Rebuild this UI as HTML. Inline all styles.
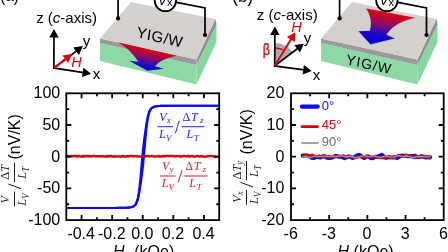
<!DOCTYPE html>
<html lang="en"><head><meta charset="utf-8"><title>Figure</title>
<style>html,body{margin:0;padding:0;background:#fff;overflow:hidden}svg{display:block}text{white-space:pre}</style>
</head><body>
<svg width="448" height="252" viewBox="0 0 448 252">
<defs>
<linearGradient id="ga" gradientUnits="userSpaceOnUse" x1="150" y1="48.5" x2="145" y2="71"><stop offset="0" stop-color="#dc0010"/><stop offset="0.14" stop-color="#c80428"/><stop offset="0.4" stop-color="#8c0c62"/><stop offset="0.6" stop-color="#4a0c9e"/><stop offset="0.76" stop-color="#1a08c6"/><stop offset="1" stop-color="#0800d2"/></linearGradient>
<linearGradient id="gb" gradientUnits="userSpaceOnUse" x1="392" y1="12" x2="386" y2="44"><stop offset="0" stop-color="#dc0010"/><stop offset="0.15" stop-color="#cc0424"/><stop offset="0.42" stop-color="#8c0c62"/><stop offset="0.6" stop-color="#4a0c9e"/><stop offset="0.74" stop-color="#1a08c6"/><stop offset="1" stop-color="#0800d2"/></linearGradient>
</defs>
<rect width="448" height="252" fill="#fff"/>
<text transform="translate(0,0.9) scale(0.86,1)" font-family='"Liberation Sans", Arial, sans-serif' font-size="18">(a)</text>
<text transform="translate(232.2,1.9) scale(0.95,1)" font-family='"Liberation Sans", Arial, sans-serif' font-size="18">(b)</text>
<text x="36.2" y="23.2" font-family='"Liberation Sans", Arial, sans-serif' font-size="15">z (<tspan font-style="italic">c</tspan>-axis)</text>
<line x1="53.90" y1="68.80" x2="53.98" y2="36.50" stroke="#000" stroke-width="1.7"/>
<polygon points="54.00,29.00 58.68,37.51 49.28,37.49" fill="#000"/>
<line x1="53.10" y1="67.90" x2="83.69" y2="72.57" stroke="#000" stroke-width="1.7"/>
<polygon points="91.10,73.70 81.99,77.06 83.41,67.77" fill="#000"/>
<line x1="53.90" y1="68.00" x2="76.91" y2="50.62" stroke="#000" stroke-width="1.7"/>
<polygon points="82.90,46.10 78.95,54.97 73.28,47.47" fill="#000"/>
<line x1="53.90" y1="68.00" x2="66.16" y2="58.57" stroke="#dc040c" stroke-width="2.1"/>
<polygon points="72.10,54.00 68.23,62.91 62.50,55.46" fill="#dc040c"/>
<text x="82.8" y="45.5" font-family='"Liberation Sans", Arial, sans-serif' font-size="15">y</text>
<text x="71.2" y="67.3" font-family='"Liberation Sans", Arial, sans-serif' font-size="14.5" font-style="italic" fill="#dc040c">H</text>
<text x="92.8" y="78.7" font-family='"Liberation Sans", Arial, sans-serif' font-size="15">x</text>
<polygon points="100.00,43.00 196.50,65.00 196.50,84.50 100.00,61.00" fill="#8dd9a6" />
<polygon points="196.50,65.00 216.50,24.50 216.50,42.00 196.50,84.50" fill="#86d6a0" />
<polygon points="100.00,38.50 196.50,59.50 196.50,65.00 100.00,43.00" fill="#9b9999" />
<polygon points="196.50,59.50 215.50,19.00 216.50,24.50 196.50,65.00" fill="#8f8d8d" />
<polygon points="131.00,2.00 215.50,19.00 196.50,59.50 100.00,38.50" fill="#d3d0ce" />
<path d="M117.9,42.3 L176.7,55.8 Q162,58.5 154.9,66.2 L163.8,68.8 L147.4,70.8 L129.2,60.8 L138.4,61.8 Q130,49 117.9,42.3 Z" fill="url(#ga)"/>
<path d="M118.1,0 V18.3" stroke="#000" stroke-width="1.7" fill="none"/>
<circle cx="118.1" cy="18.4" r="2.1" fill="#000"/>
<path d="M176.5,2.3 L205,8 V35" stroke="#000" stroke-width="1.7" fill="none" stroke-linejoin="miter"/>
<circle cx="205" cy="35" r="2.1" fill="#000"/>
<circle cx="165.4" cy="0.5" r="10.7" fill="#fff" stroke="#000" stroke-width="1.8"/>
<text x="157.9" y="5.2" font-family='"Liberation Sans", Arial, sans-serif' font-size="13" font-style="italic">V</text>
<text x="166.9" y="5.5" font-family='"Liberation Sans", Arial, sans-serif' font-size="11">x</text>
<text transform="matrix(1,0.23,-0.16,1,135.9,37)" font-family='"Liberation Sans", Arial, sans-serif' font-size="15" letter-spacing="0.4">YIG/W</text>
<text x="256.8" y="19.6" font-family='"Liberation Sans", Arial, sans-serif' font-size="15">z (<tspan font-style="italic">c</tspan>-axis)</text>
<path d="M274.70,65.90 L274.70,42.90 A23,23 0 0 1 292.82,51.74 Z" fill="#a9a9a9" stroke="#bfe6e6" stroke-width="0.6"/>
<path d="M274.70,47.90 A18,18 0 0 1 284.13,50.57" fill="none" stroke="#a8e2e2" stroke-width="2.8"/>
<path d="M274.70,47.90 A18,18 0 0 1 284.13,50.57" fill="none" stroke="#dc040c" stroke-width="1.8"/>
<line x1="274.70" y1="65.90" x2="287.28" y2="45.46" stroke="#a8e2e2" stroke-width="2.9"/>
<line x1="274.70" y1="66.70" x2="274.86" y2="34.10" stroke="#000" stroke-width="1.7"/>
<polygon points="274.90,26.60 279.56,35.12 270.16,35.08" fill="#000"/>
<line x1="273.90" y1="65.80" x2="304.27" y2="69.90" stroke="#000" stroke-width="1.7"/>
<polygon points="311.70,70.90 302.65,74.42 303.90,65.11" fill="#000"/>
<line x1="274.70" y1="65.90" x2="297.93" y2="48.24" stroke="#000" stroke-width="1.7"/>
<polygon points="303.90,43.70 299.98,52.59 294.29,45.10" fill="#000"/>
<line x1="274.70" y1="65.90" x2="291.38" y2="38.69" stroke="#dc040c" stroke-width="2.1"/>
<polygon points="295.30,32.30 294.86,42.00 286.85,37.09" fill="#dc040c"/>
<text x="303.8" y="43" font-family='"Liberation Sans", Arial, sans-serif' font-size="15">y</text>
<text x="291.2" y="32.3" font-family='"Liberation Sans", Arial, sans-serif' font-size="14.5" font-style="italic" fill="#dc040c">H</text>
<text x="312.8" y="80.1" font-family='"Liberation Sans", Arial, sans-serif' font-size="15">x</text>
<text x="262.8" y="55.2" font-family='"Liberation Sans", Arial, sans-serif' font-size="17" fill="#dc040c" stroke="#dc040c" stroke-width="0.35" textLength="7.2" lengthAdjust="spacingAndGlyphs">β</text>
<polygon points="321.00,43.00 417.50,65.00 417.50,84.50 321.00,61.00" fill="#8dd9a6" />
<polygon points="417.50,65.00 437.50,24.50 437.50,42.00 417.50,84.50" fill="#86d6a0" />
<polygon points="321.00,38.50 417.50,59.50 417.50,65.00 321.00,43.00" fill="#9b9999" />
<polygon points="417.50,59.50 436.50,19.00 437.50,24.50 417.50,65.00" fill="#8f8d8d" />
<polygon points="352.00,2.00 436.50,19.00 417.50,59.50 321.00,38.50" fill="#d3d0ce" />
<path d="M365.6,8.0 L416.6,17.7 Q395,22 386.7,34.6 L395.6,38.6 L370.4,44.7 L357.9,30.9 L369.8,30.4 Q372.5,18 365.6,8.0 Z" fill="url(#gb)" stroke="#e8f4e0" stroke-width="0.5"/>
<path d="M339.6,0 V18.3" stroke="#000" stroke-width="1.7" fill="none"/>
<circle cx="339.6" cy="18.4" r="2.1" fill="#000"/>
<path d="M398.0,2.3 L426.5,8 V35" stroke="#000" stroke-width="1.7" fill="none" stroke-linejoin="miter"/>
<circle cx="426.5" cy="35" r="2.1" fill="#000"/>
<circle cx="386.9" cy="0.5" r="10.7" fill="#fff" stroke="#000" stroke-width="1.8"/>
<text x="379.4" y="5.2" font-family='"Liberation Sans", Arial, sans-serif' font-size="13" font-style="italic">V</text>
<text x="388.4" y="5.5" font-family='"Liberation Sans", Arial, sans-serif' font-size="11">x</text>
<text transform="matrix(1,0.225,-0.16,1,345.5,64)" font-family='"Liberation Sans", Arial, sans-serif' font-size="14" letter-spacing="0.9">YIG/W</text>
<g clip-path="none">
<polyline points="66.30,208.00 66.80,208.00 67.30,208.00 67.80,208.00 68.30,208.00 68.80,208.00 69.30,208.00 69.80,208.00 70.30,208.00 70.80,208.00 71.30,208.00 71.80,208.00 72.30,208.00 72.80,208.00 73.30,208.00 73.80,208.00 74.30,208.00 74.80,208.00 75.30,208.00 75.80,208.00 76.30,208.00 76.80,208.00 77.30,208.00 77.80,208.00 78.30,208.00 78.80,208.00 79.30,208.00 79.80,208.00 80.30,208.00 80.80,208.00 81.30,208.00 81.80,208.00 82.30,208.00 82.80,208.00 83.30,208.00 83.80,208.00 84.30,208.00 84.80,208.00 85.30,208.00 85.80,208.00 86.30,208.00 86.80,208.00 87.30,208.00 87.80,208.00 88.30,208.00 88.80,208.00 89.30,208.00 89.80,208.00 90.30,208.00 90.80,208.00 91.30,207.99 91.80,207.99 92.30,207.99 92.80,207.99 93.30,207.99 93.80,207.99 94.30,207.99 94.80,207.99 95.30,207.99 95.80,207.99 96.30,207.99 96.80,207.99 97.30,207.99 97.80,207.99 98.30,207.99 98.80,207.99 99.30,207.99 99.80,207.99 100.30,207.99 100.80,207.99 101.30,207.99 101.80,207.99 102.30,207.99 102.80,207.99 103.30,207.99 103.80,207.99 104.30,207.99 104.80,207.99 105.30,207.99 105.80,207.98 106.30,207.98 106.80,207.98 107.30,207.98 107.80,207.98 108.30,207.98 108.80,207.98 109.30,207.98 109.80,207.98 110.30,207.98 110.80,207.97 111.30,207.97 111.80,207.97 112.30,207.97 112.80,207.97 113.30,207.97 113.80,207.96 114.30,207.96 114.80,207.96 115.30,207.96 115.80,207.95 116.30,207.95 116.80,207.95 117.30,207.94 117.80,207.94 118.30,207.94 118.80,207.93 119.30,207.93 119.80,207.92 120.30,207.91 120.80,207.91 121.30,207.90 121.80,207.89 122.30,207.88 122.80,207.87 123.30,207.86 123.80,207.85 124.30,207.83 124.80,207.82 125.30,207.80 125.80,207.78 126.30,207.75 126.80,207.73 127.30,207.70 127.80,207.66 128.30,207.62 128.80,207.57 129.30,207.52 129.80,207.46 130.30,207.38 130.80,207.29 131.30,207.19 131.80,207.07 132.30,206.92 132.80,206.74 133.30,206.52 133.80,206.25 134.30,205.92 134.80,205.51 135.30,205.00 135.80,204.35 136.30,203.54 136.80,202.52 137.30,201.24 137.80,199.64 138.30,197.67 138.80,195.31 139.30,192.57 139.80,189.50 140.30,186.19 140.80,182.74 141.30,179.16 141.80,175.43 142.30,171.46 142.80,167.13 143.30,162.37 143.80,157.17 144.30,151.75 144.80,146.15 145.30,140.53 145.80,135.13 146.30,130.14 146.80,125.74 147.30,121.97 147.80,118.83 148.30,116.26 148.80,114.19 149.30,112.54 149.80,111.23 150.30,110.19 150.80,109.37 151.30,108.72 151.80,108.20 152.30,107.79 152.80,107.45 153.30,107.18 153.80,106.96 154.30,106.78 154.80,106.63 155.30,106.51 155.80,106.40 156.30,106.31 156.80,106.24 157.30,106.18 157.80,106.12 158.30,106.07 158.80,106.03 159.30,106.00 159.80,105.97 160.30,105.94 160.80,105.92 161.30,105.90 161.80,105.88 162.30,105.87 162.80,105.85 163.30,105.84 163.80,105.83 164.30,105.82 164.80,105.81 165.30,105.80 165.80,105.79 166.30,105.78 166.80,105.78 167.30,105.77 167.80,105.77 168.30,105.76 168.80,105.76 169.30,105.76 169.80,105.75 170.30,105.75 170.80,105.75 171.30,105.74 171.80,105.74 172.30,105.74 172.80,105.74 173.30,105.73 173.80,105.73 174.30,105.73 174.80,105.73 175.30,105.73 175.80,105.73 176.30,105.72 176.80,105.72 177.30,105.72 177.80,105.72 178.30,105.72 178.80,105.72 179.30,105.72 179.80,105.72 180.30,105.72 180.80,105.72 181.30,105.71 181.80,105.71 182.30,105.71 182.80,105.71 183.30,105.71 183.80,105.71 184.30,105.71 184.80,105.71 185.30,105.71 185.80,105.71 186.30,105.71 186.80,105.71 187.30,105.71 187.80,105.71 188.30,105.71 188.80,105.71 189.30,105.71 189.80,105.71 190.30,105.71 190.80,105.71 191.30,105.71 191.80,105.71 192.30,105.71 192.80,105.71 193.30,105.71 193.80,105.71 194.30,105.71 194.80,105.71 195.30,105.70 195.80,105.70 196.30,105.70 196.80,105.70 197.30,105.70 197.80,105.70 198.30,105.70 198.80,105.70 199.30,105.70 199.80,105.70 200.30,105.70 200.80,105.70 201.30,105.70 201.80,105.70 202.30,105.70 202.80,105.70 203.30,105.70 203.80,105.70 204.30,105.70 204.80,105.70 205.30,105.70 205.80,105.70 206.30,105.70 206.80,105.70 207.30,105.70 207.80,105.70 208.30,105.70 208.80,105.70 209.30,105.70 209.80,105.70 210.30,105.70 210.80,105.70 211.30,105.70 211.80,105.70 212.30,105.70 212.80,105.70 213.30,105.70 213.80,105.70 214.30,105.70 214.80,105.70 215.30,105.70 215.80,105.70 216.30,105.70 216.80,105.70 217.30,105.70 217.80,105.70 218.30,105.70 218.80,105.70" fill="none" stroke="#0a0af6" stroke-width="2.15" stroke-linejoin="round"/>
<polyline points="66.30,208.00 66.80,208.00 67.30,208.00 67.80,208.00 68.30,208.00 68.80,208.00 69.30,208.00 69.80,208.00 70.30,208.00 70.80,208.00 71.30,208.00 71.80,208.00 72.30,208.00 72.80,208.00 73.30,208.00 73.80,208.00 74.30,208.00 74.80,208.00 75.30,208.00 75.80,208.00 76.30,208.00 76.80,208.00 77.30,208.00 77.80,208.00 78.30,208.00 78.80,208.00 79.30,208.00 79.80,208.00 80.30,208.00 80.80,208.00 81.30,208.00 81.80,208.00 82.30,208.00 82.80,208.00 83.30,208.00 83.80,208.00 84.30,208.00 84.80,208.00 85.30,208.00 85.80,208.00 86.30,208.00 86.80,208.00 87.30,208.00 87.80,208.00 88.30,208.00 88.80,208.00 89.30,208.00 89.80,208.00 90.30,208.00 90.80,208.00 91.30,207.99 91.80,207.99 92.30,207.99 92.80,207.99 93.30,207.99 93.80,207.99 94.30,207.99 94.80,207.99 95.30,207.99 95.80,207.99 96.30,207.99 96.80,207.99 97.30,207.99 97.80,207.99 98.30,207.99 98.80,207.99 99.30,207.99 99.80,207.99 100.30,207.99 100.80,207.99 101.30,207.99 101.80,207.99 102.30,207.99 102.80,207.99 103.30,207.99 103.80,207.99 104.30,207.99 104.80,207.99 105.30,207.98 105.80,207.98 106.30,207.98 106.80,207.98 107.30,207.98 107.80,207.98 108.30,207.98 108.80,207.98 109.30,207.98 109.80,207.98 110.30,207.97 110.80,207.97 111.30,207.97 111.80,207.97 112.30,207.97 112.80,207.97 113.30,207.96 113.80,207.96 114.30,207.96 114.80,207.96 115.30,207.95 115.80,207.95 116.30,207.95 116.80,207.94 117.30,207.94 117.80,207.94 118.30,207.93 118.80,207.93 119.30,207.92 119.80,207.92 120.30,207.91 120.80,207.90 121.30,207.89 121.80,207.88 122.30,207.87 122.80,207.86 123.30,207.85 123.80,207.84 124.30,207.82 124.80,207.80 125.30,207.78 125.80,207.76 126.30,207.73 126.80,207.70 127.30,207.67 127.80,207.63 128.30,207.58 128.80,207.53 129.30,207.47 129.80,207.40 130.30,207.31 130.80,207.21 131.30,207.09 131.80,206.95 132.30,206.78 132.80,206.57 133.30,206.31 133.80,205.99 134.30,205.60 134.80,205.11 135.30,204.49 135.80,203.72 136.30,202.74 136.80,201.51 137.30,199.95 137.80,198.00 138.30,195.57 138.80,192.59 139.30,188.98 139.80,184.72 140.30,179.84 140.80,174.44 141.30,168.71 141.80,162.88 142.30,157.16 142.80,151.86 143.30,147.00 143.80,142.57 144.30,138.55 144.80,134.84 145.30,131.35 145.80,127.98 146.30,124.76 146.80,121.72 147.30,118.96 147.80,116.54 148.30,114.50 148.80,112.81 149.30,111.46 149.80,110.38 150.30,109.52 150.80,108.84 151.30,108.30 151.80,107.86 152.30,107.51 152.80,107.23 153.30,107.00 153.80,106.81 154.30,106.66 154.80,106.53 155.30,106.42 155.80,106.33 156.30,106.25 156.80,106.19 157.30,106.13 157.80,106.08 158.30,106.04 158.80,106.01 159.30,105.98 159.80,105.95 160.30,105.92 160.80,105.90 161.30,105.88 161.80,105.87 162.30,105.85 162.80,105.84 163.30,105.83 163.80,105.82 164.30,105.81 164.80,105.80 165.30,105.79 165.80,105.79 166.30,105.78 166.80,105.77 167.30,105.77 167.80,105.76 168.30,105.76 168.80,105.76 169.30,105.75 169.80,105.75 170.30,105.75 170.80,105.74 171.30,105.74 171.80,105.74 172.30,105.74 172.80,105.73 173.30,105.73 173.80,105.73 174.30,105.73 174.80,105.73 175.30,105.73 175.80,105.72 176.30,105.72 176.80,105.72 177.30,105.72 177.80,105.72 178.30,105.72 178.80,105.72 179.30,105.72 179.80,105.72 180.30,105.72 180.80,105.71 181.30,105.71 181.80,105.71 182.30,105.71 182.80,105.71 183.30,105.71 183.80,105.71 184.30,105.71 184.80,105.71 185.30,105.71 185.80,105.71 186.30,105.71 186.80,105.71 187.30,105.71 187.80,105.71 188.30,105.71 188.80,105.71 189.30,105.71 189.80,105.71 190.30,105.71 190.80,105.71 191.30,105.71 191.80,105.71 192.30,105.71 192.80,105.71 193.30,105.71 193.80,105.71 194.30,105.71 194.80,105.70 195.30,105.70 195.80,105.70 196.30,105.70 196.80,105.70 197.30,105.70 197.80,105.70 198.30,105.70 198.80,105.70 199.30,105.70 199.80,105.70 200.30,105.70 200.80,105.70 201.30,105.70 201.80,105.70 202.30,105.70 202.80,105.70 203.30,105.70 203.80,105.70 204.30,105.70 204.80,105.70 205.30,105.70 205.80,105.70 206.30,105.70 206.80,105.70 207.30,105.70 207.80,105.70 208.30,105.70 208.80,105.70 209.30,105.70 209.80,105.70 210.30,105.70 210.80,105.70 211.30,105.70 211.80,105.70 212.30,105.70 212.80,105.70 213.30,105.70 213.80,105.70 214.30,105.70 214.80,105.70 215.30,105.70 215.80,105.70 216.30,105.70 216.80,105.70 217.30,105.70 217.80,105.70 218.30,105.70 218.80,105.70" fill="none" stroke="#0a0af6" stroke-width="2.15" stroke-linejoin="round"/>
<polyline points="66.80,156.14 67.60,155.99 68.40,156.44 69.20,155.92 70.00,156.33 70.80,156.18 71.60,155.90 72.40,156.31 73.20,155.88 74.00,156.24 74.80,155.91 75.60,155.93 76.40,156.23 77.20,156.59 78.00,155.96 78.80,156.05 79.60,156.41 80.40,156.70 81.20,156.37 82.00,156.21 82.80,156.73 83.60,155.89 84.40,156.62 85.20,156.11 86.00,155.98 86.80,155.96 87.60,156.13 88.40,156.58 89.20,156.01 90.00,156.37 90.80,156.43 91.60,156.19 92.40,156.34 93.20,155.91 94.00,155.90 94.80,156.04 95.60,156.46 96.40,156.23 97.20,156.13 98.00,156.38 98.80,156.26 99.60,156.12 100.40,156.56 101.20,156.48 102.00,156.07 102.80,156.37 103.60,156.32 104.40,156.64 105.20,156.51 106.00,156.11 106.80,156.73 107.60,155.96 108.40,156.23 109.20,156.53 110.00,155.99 110.80,156.29 111.60,155.89 112.40,156.45 113.20,156.54 114.00,156.37 114.80,156.64 115.60,156.13 116.40,156.48 117.20,156.38 118.00,156.37 118.80,156.26 119.60,156.61 120.40,156.70 121.20,156.28 122.00,156.45 122.80,155.90 123.60,156.48 124.40,156.43 125.20,156.74 126.00,156.59 126.80,156.11 127.60,156.20 128.40,156.45 129.20,155.87 130.00,156.27 130.80,156.00 131.60,155.96 132.40,155.90 133.20,156.54 134.00,155.97 134.80,156.07 135.60,156.20 136.40,156.63 137.20,155.92 138.00,156.25 138.80,156.34 139.60,156.65 140.40,156.59 141.20,156.63 142.00,156.10 142.80,156.22 143.60,156.17 144.40,156.65 145.20,156.71 146.00,155.99 146.80,156.01 147.60,156.06 148.40,156.06 149.20,156.29 150.00,156.38 150.80,156.09 151.60,155.85 152.40,156.23 153.20,156.18 154.00,156.36 154.80,156.71 155.60,156.47 156.40,156.31 157.20,156.41 158.00,156.46 158.80,155.90 159.60,156.66 160.40,156.55 161.20,156.64 162.00,156.57 162.80,156.20 163.60,156.21 164.40,155.94 165.20,156.42 166.00,155.91 166.80,155.91 167.60,156.04 168.40,156.00 169.20,156.16 170.00,155.90 170.80,155.85 171.60,155.99 172.40,155.94 173.20,156.18 174.00,155.87 174.80,156.64 175.60,156.40 176.40,155.98 177.20,156.08 178.00,156.16 178.80,156.18 179.60,155.96 180.40,156.61 181.20,156.74 182.00,156.27 182.80,156.29 183.60,155.93 184.40,155.94 185.20,156.16 186.00,156.09 186.80,156.60 187.60,156.00 188.40,155.87 189.20,156.71 190.00,156.33 190.80,155.98 191.60,156.34 192.40,155.87 193.20,156.33 194.00,156.73 194.80,156.63 195.60,156.48 196.40,156.09 197.20,156.18 198.00,156.00 198.80,156.54 199.60,156.33 200.40,156.55 201.20,156.15 202.00,156.05 202.80,156.58 203.60,156.74 204.40,156.62 205.20,156.58 206.00,156.59 206.80,156.52 207.60,156.05 208.40,156.32 209.20,156.17 210.00,155.88 210.80,155.88 211.60,156.10 212.40,156.08 213.20,156.47 214.00,156.71 214.80,156.25 215.60,156.69 216.40,156.74 217.20,156.71 218.00,156.18" fill="none" stroke="#dc040c" stroke-width="2.4" stroke-linejoin="round"/>
</g>
<rect x="66.3" y="93.3" width="152.90" height="126.80" fill="none" stroke="#000" stroke-width="1.8"/>
<path d="M81.59,220.1v-5.0M81.59,93.3v5.0M112.17,220.1v-5.0M112.17,93.3v5.0M142.75,220.1v-5.0M142.75,93.3v5.0M173.33,220.1v-5.0M173.33,93.3v5.0M203.91,220.1v-5.0M203.91,93.3v5.0M96.88,220.1v-2.9M96.88,93.3v2.9M127.46,220.1v-2.9M127.46,93.3v2.9M158.04,220.1v-2.9M158.04,93.3v2.9M188.62,220.1v-2.9M188.62,93.3v2.9M66.3,125.00h5.0M219.2,125.00h-5.0M66.3,156.70h5.0M219.2,156.70h-5.0M66.3,188.40h5.0M219.2,188.40h-5.0M66.3,109.15h2.9M219.2,109.15h-2.9M66.3,140.85h2.9M219.2,140.85h-2.9M66.3,172.55h2.9M219.2,172.55h-2.9M66.3,204.25h2.9M219.2,204.25h-2.9" stroke="#000" stroke-width="1.8" fill="none"/>
<text x="60.20" y="97.60" text-anchor="end" font-family='"Liberation Sans", Arial, sans-serif' font-size="16">100</text>
<text x="60.20" y="129.50" text-anchor="end" font-family='"Liberation Sans", Arial, sans-serif' font-size="16">50</text>
<text x="60.20" y="161.50" text-anchor="end" font-family='"Liberation Sans", Arial, sans-serif' font-size="16">0</text>
<text x="60.20" y="193.10" text-anchor="end" font-family='"Liberation Sans", Arial, sans-serif' font-size="16">-50</text>
<text x="60.20" y="225.00" text-anchor="end" font-family='"Liberation Sans", Arial, sans-serif' font-size="16">-100</text>
<text x="81.19" y="239.30" text-anchor="middle" font-family='"Liberation Sans", Arial, sans-serif' font-size="16">-0.4</text>
<text x="111.77" y="239.30" text-anchor="middle" font-family='"Liberation Sans", Arial, sans-serif' font-size="16">-0.2</text>
<text x="142.35" y="239.30" text-anchor="middle" font-family='"Liberation Sans", Arial, sans-serif' font-size="16">0.0</text>
<text x="172.93" y="239.30" text-anchor="middle" font-family='"Liberation Sans", Arial, sans-serif' font-size="16">0.2</text>
<text x="203.51" y="239.30" text-anchor="middle" font-family='"Liberation Sans", Arial, sans-serif' font-size="16">0.4</text>
<text x="113.0" y="256.9" font-family='"Liberation Sans", Arial, sans-serif' font-size="16"><tspan font-style="italic">H</tspan><tspan font-size="10.5" dy="3" font-style="italic">y</tspan><tspan dy="-3"> (kOe)</tspan></text>
<g fill="#2424ff" font-family='"Liberation Serif", "Times New Roman", serif' font-style="italic"><text x="159.30" y="121.00" font-size="12.1">V</text><text x="166.80" y="122.90" font-size="9.2">x</text><rect x="157.40" y="126.20" width="15.5" height="1"/><text x="159.00" y="138.10" font-size="12.1">L</text><text x="165.90" y="140.60" font-size="9.2">V</text><line x1="179.30" y1="120.70" x2="175.40" y2="133.30" stroke="#2424ff" stroke-width="1"/><text x="182.60" y="121.00" font-size="12.1" font-style="normal">Δ</text><text x="191.00" y="121.00" font-size="12.1">T</text><text x="199.90" y="122.90" font-size="9.2">z</text><rect x="181.70" y="126.20" width="22.9" height="1"/><text x="186.50" y="138.10" font-size="12.1">L</text><text x="193.70" y="140.60" font-size="9.2">T</text></g>
<g fill="#d81e28" font-family='"Liberation Serif", "Times New Roman", serif' font-style="italic"><text x="162.00" y="170.30" font-size="12.1">V</text><text x="169.50" y="172.20" font-size="9.2">y</text><rect x="160.10" y="175.50" width="15.5" height="1"/><text x="161.70" y="187.40" font-size="12.1">L</text><text x="168.60" y="189.90" font-size="9.2">V</text><line x1="182.00" y1="170.00" x2="178.10" y2="182.60" stroke="#d81e28" stroke-width="1"/><text x="185.30" y="170.30" font-size="12.1" font-style="normal">Δ</text><text x="193.70" y="170.30" font-size="12.1">T</text><text x="202.60" y="172.20" font-size="9.2">z</text><rect x="184.40" y="175.50" width="22.9" height="1"/><text x="189.20" y="187.40" font-size="12.1">L</text><text x="196.40" y="189.90" font-size="9.2">T</text></g>
<g transform="translate(14.5,206.4) rotate(-90)" fill="#1c1c1c"><g font-family='"Liberation Serif", "Times New Roman", serif' font-style="italic"><rect x="0" y="-0.5" width="14.8" height="1"/><text transform="translate(3.00,-5.30) scale(0.93,1)" font-size="13.2">V</text><text transform="translate(0.70,11.80) scale(0.93,1)" font-size="13.2">L</text><text transform="translate(7.60,14.20) scale(0.93,1)" font-size="9.4">V</text><line x1="17.7" y1="6.6" x2="22.4" y2="-6.1" stroke="#1c1c1c" stroke-width="1"/><rect x="24.4" y="-0.5" width="19.4" height="1"/><text transform="translate(26.60,-5.30) scale(0.93,1)" font-size="13.2" font-style="normal">Δ</text><text transform="translate(34.60,-5.30) scale(0.93,1)" font-size="13.2">T</text><text transform="translate(27.60,11.80) scale(0.93,1)" font-size="13.2">L</text><text transform="translate(34.60,14.20) scale(0.93,1)" font-size="9.4">T</text></g><text x="46.9" y="5.3" font-family='"Liberation Sans", Arial, sans-serif' font-size="16" fill="#000">(nV/K)</text></g>
<polyline points="302.60,155.44 304.80,155.39 307.00,155.34 309.20,156.24 311.40,157.70 313.60,158.16 315.80,157.27 318.00,156.88 320.20,157.55 322.40,156.36 324.60,156.07 326.80,157.80 329.00,158.05 331.20,157.72 333.40,157.08 335.60,155.88 337.80,156.53 340.00,156.86 342.20,156.88 344.40,158.22 346.60,157.37 348.80,156.17 351.00,157.33 353.20,158.01 355.40,156.38 357.60,155.12 359.80,155.08 362.00,156.72 364.20,158.09 366.40,156.50 368.60,156.54 370.80,158.29 373.00,157.94 375.20,156.62 377.40,156.39 379.60,155.93 381.80,154.80 384.00,156.57 386.20,157.90 388.40,156.97 390.60,157.57 392.80,157.37 395.00,157.24 397.20,158.07 399.40,156.68 401.60,155.47 403.80,155.64 406.00,155.62 408.20,156.24 410.40,156.28 412.60,155.92 414.80,155.66 417.00,156.69 419.20,157.15 421.40,156.21 423.60,156.69 425.80,157.62 428.00,157.28 430.20,157.31" fill="none" stroke="#0a0af6" stroke-width="4.0" stroke-linejoin="round" stroke-linecap="round"/>
<polyline points="302.60,156.71 305.00,155.68 307.40,155.52 309.80,155.85 312.20,154.97 314.60,156.21 317.00,156.54 319.40,155.89 321.80,157.00 324.20,157.16 326.60,156.36 329.00,156.29 331.40,156.75 333.80,157.28 336.20,156.38 338.60,155.93 341.00,156.22 343.40,155.65 345.80,156.70 348.20,157.16 350.60,156.74 353.00,157.24 355.40,157.94 357.80,157.31 360.20,156.71 362.60,156.84 365.00,156.64 367.40,157.01 369.80,156.89 372.20,156.57 374.60,156.62 377.00,157.44 379.40,157.88 381.80,157.75 384.20,158.24 386.60,157.00 389.00,156.24 391.40,157.61 393.80,158.17 396.20,156.55 398.60,155.12 401.00,155.73 403.40,155.63 405.80,155.23 408.20,155.23 410.60,156.09 413.00,157.51 415.40,157.96 417.80,156.70 420.20,156.34 422.60,157.35 425.00,156.21 427.40,156.65 429.80,158.30" fill="none" stroke="#dc040c" stroke-width="2.7" stroke-linejoin="round" stroke-linecap="round"/>
<polyline points="302.60,157.02 305.20,156.46 307.80,157.17 310.40,157.59 313.00,156.59 315.60,156.11 318.20,156.54 320.80,156.43 323.40,156.04 326.00,156.02 328.60,156.65 331.20,156.29 333.80,156.09 336.40,156.59 339.00,155.95 341.60,155.82 344.20,156.55 346.80,156.76 349.40,156.09 352.00,156.66 354.60,157.53 357.20,157.51 359.80,156.69 362.40,155.84 365.00,155.77 367.60,156.38 370.20,156.66 372.80,155.88 375.40,156.06 378.00,157.00 380.60,157.48 383.20,156.69 385.80,155.89 388.40,156.68 391.00,157.19 393.60,156.93 396.20,156.35 398.80,155.58 401.40,156.29 404.00,156.74 406.60,156.00 409.20,156.61 411.80,157.29 414.40,157.12 417.00,156.46 419.60,156.53 422.20,156.51 424.80,156.52 427.40,156.98 430.00,156.35" fill="none" stroke="#8aa49c" stroke-width="1.3" stroke-linejoin="round" stroke-linecap="round"/>
<rect x="291.0" y="93.3" width="152.70" height="126.80" fill="none" stroke="#000" stroke-width="1.8"/>
<path d="M329.18,220.1v-5.0M329.18,93.3v5.0M367.35,220.1v-5.0M367.35,93.3v5.0M405.53,220.1v-5.0M405.53,93.3v5.0M310.09,220.1v-2.9M310.09,93.3v2.9M348.26,220.1v-2.9M348.26,93.3v2.9M386.44,220.1v-2.9M386.44,93.3v2.9M424.61,220.1v-2.9M424.61,93.3v2.9M291.0,125.00h5.0M443.7,125.00h-5.0M291.0,156.70h5.0M443.7,156.70h-5.0M291.0,188.40h5.0M443.7,188.40h-5.0M291.0,109.15h2.9M443.7,109.15h-2.9M291.0,140.85h2.9M443.7,140.85h-2.9M291.0,172.55h2.9M443.7,172.55h-2.9M291.0,204.25h2.9M443.7,204.25h-2.9" stroke="#000" stroke-width="1.8" fill="none"/>
<text x="284.40" y="97.60" text-anchor="end" font-family='"Liberation Sans", Arial, sans-serif' font-size="16">20</text>
<text x="284.40" y="129.50" text-anchor="end" font-family='"Liberation Sans", Arial, sans-serif' font-size="16">10</text>
<text x="284.40" y="161.50" text-anchor="end" font-family='"Liberation Sans", Arial, sans-serif' font-size="16">0</text>
<text x="284.40" y="193.10" text-anchor="end" font-family='"Liberation Sans", Arial, sans-serif' font-size="16">-10</text>
<text x="284.40" y="225.00" text-anchor="end" font-family='"Liberation Sans", Arial, sans-serif' font-size="16">-20</text>
<text x="290.70" y="239.30" text-anchor="middle" font-family='"Liberation Sans", Arial, sans-serif' font-size="16">-6</text>
<text x="328.88" y="239.30" text-anchor="middle" font-family='"Liberation Sans", Arial, sans-serif' font-size="16">-3</text>
<text x="367.05" y="239.30" text-anchor="middle" font-family='"Liberation Sans", Arial, sans-serif' font-size="16">0</text>
<text x="405.23" y="239.30" text-anchor="middle" font-family='"Liberation Sans", Arial, sans-serif' font-size="16">3</text>
<text x="443.40" y="239.30" text-anchor="middle" font-family='"Liberation Sans", Arial, sans-serif' font-size="16">6</text>
<text x="337.6" y="256.9" font-family='"Liberation Sans", Arial, sans-serif' font-size="16"><tspan font-style="italic">H</tspan> (kOe)</text>
<line x1="301.9" y1="106.6" x2="317.7" y2="106.6" stroke="#0a0af6" stroke-width="4.2" stroke-linecap="round"/>
<text x="321.7" y="109.6" font-family='"Liberation Sans", Arial, sans-serif' font-size="13" fill="#0a0af6">0°</text>
<line x1="301.9" y1="126.6" x2="317.6" y2="126.6" stroke="#dc040c" stroke-width="2.8" stroke-linecap="round"/>
<text x="321.7" y="129.1" font-family='"Liberation Sans", Arial, sans-serif' font-size="13" fill="#dc040c">45°</text>
<line x1="301.4" y1="143" x2="318.6" y2="143" stroke="#7a7a7a" stroke-width="1.4"/>
<text x="321.7" y="145.5" font-family='"Liberation Sans", Arial, sans-serif' font-size="13" fill="#6e6e6e">90°</text>
<g transform="translate(246.5,204.7) rotate(-90)" fill="#1c1c1c"><g font-family='"Liberation Serif", "Times New Roman", serif' font-style="italic"><rect x="0" y="-0.5" width="14.8" height="1"/><text transform="translate(2.00,-5.30) scale(0.93,1)" font-size="13.2">V</text><text transform="translate(9.40,-3.30) scale(0.93,1)" font-size="9.4">x</text><text transform="translate(0.70,11.80) scale(0.93,1)" font-size="13.2">L</text><text transform="translate(7.60,14.20) scale(0.93,1)" font-size="9.4">V</text><line x1="17.7" y1="6.6" x2="22.4" y2="-6.1" stroke="#1c1c1c" stroke-width="1"/><rect x="24.4" y="-0.5" width="19.4" height="1"/><text transform="translate(25.20,-5.30) scale(0.93,1)" font-size="13.2" font-style="normal">Δ</text><text transform="translate(33.20,-5.30) scale(0.93,1)" font-size="13.2">T</text><text transform="translate(40.00,-3.30) scale(0.93,1)" font-size="9.4">y</text><text transform="translate(27.60,11.80) scale(0.93,1)" font-size="13.2">L</text><text transform="translate(34.60,14.20) scale(0.93,1)" font-size="9.4">T</text></g><text x="50.2" y="5.3" font-family='"Liberation Sans", Arial, sans-serif' font-size="16" fill="#000">(nV/K)</text></g>
</svg>
</body></html>
